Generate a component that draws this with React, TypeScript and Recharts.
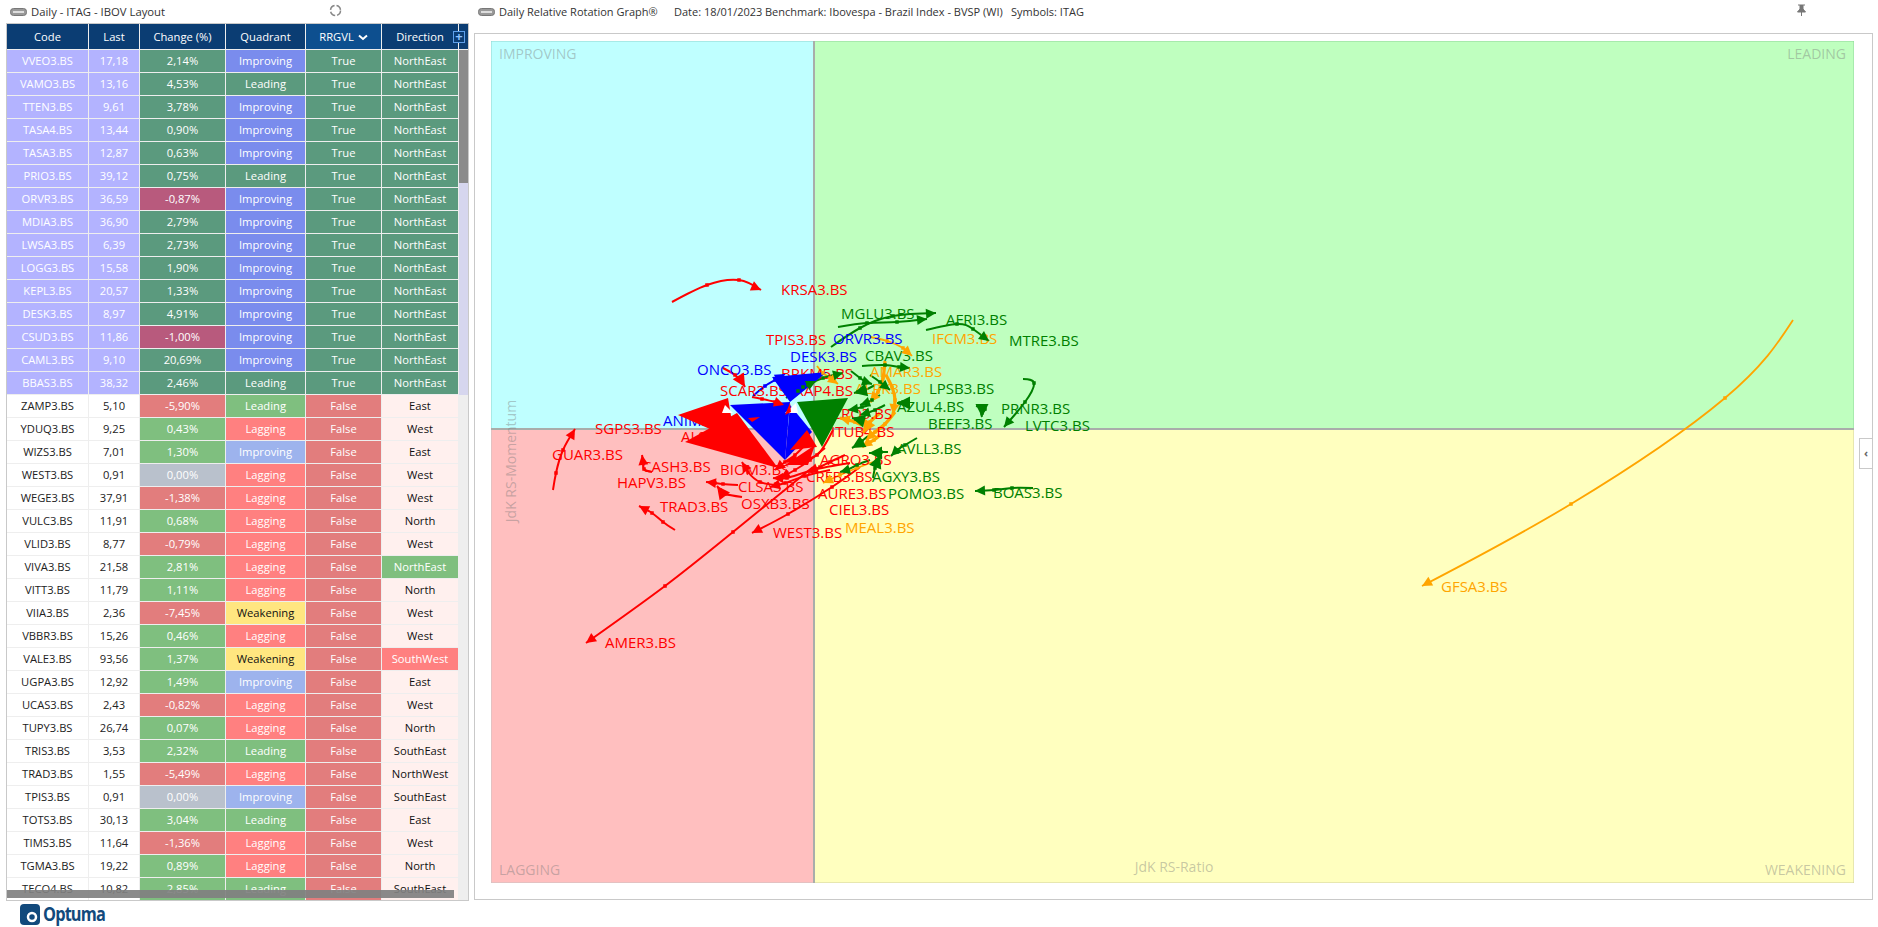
import { ComposedChart, Line, Scatter, XAxis, YAxis, ReferenceArea, ReferenceLine } from 'recharts';

type Pt = [number, number];

// ---- table columns ----
const codes = ['VVEO3.BS','VAMO3.BS','TTEN3.BS','TASA4.BS','TASA3.BS','PRIO3.BS','ORVR3.BS','MDIA3.BS','LWSA3.BS','LOGG3.BS','KEPL3.BS','DESK3.BS','CSUD3.BS','CAML3.BS','BBAS3.BS','ZAMP3.BS','YDUQ3.BS','WIZS3.BS','WEST3.BS','WEGE3.BS','VULC3.BS','VLID3.BS','VIVA3.BS','VITT3.BS','VIIA3.BS','VBBR3.BS','VALE3.BS','UGPA3.BS','UCAS3.BS','TUPY3.BS','TRIS3.BS','TRAD3.BS','TPIS3.BS','TOTS3.BS','TIMS3.BS','TGMA3.BS','TECO4.BS'];
const lasts = ['17,18','13,16','9,61','13,44','12,87','39,12','36,59','36,90','6,39','15,58','20,57','8,97','11,86','9,10','38,32','5,10','9,25','7,01','0,91','37,91','11,91','8,77','21,58','11,79','2,36','15,26','93,56','12,92','2,43','26,74','3,53','1,55','0,91','30,13','11,64','19,22','10,82'];
const changes = ['2,14%','4,53%','3,78%','0,90%','0,63%','0,75%','-0,87%','2,79%','2,73%','1,90%','1,33%','4,91%','-1,00%','20,69%','2,46%','-5,90%','0,43%','1,30%','0,00%','-1,38%','0,68%','-0,79%','2,81%','1,11%','-7,45%','0,46%','1,37%','1,49%','-0,82%','0,07%','2,32%','-5,49%','0,00%','3,04%','-1,36%','0,89%','2,85%'];
const quadrants = ['Improving','Leading','Improving','Improving','Improving','Leading','Improving','Improving','Improving','Improving','Improving','Improving','Improving','Improving','Leading','Leading','Lagging','Improving','Lagging','Lagging','Lagging','Lagging','Lagging','Lagging','Weakening','Lagging','Weakening','Improving','Lagging','Lagging','Leading','Lagging','Improving','Leading','Lagging','Lagging','Leading'];
const directions = ['NorthEast','NorthEast','NorthEast','NorthEast','NorthEast','NorthEast','NorthEast','NorthEast','NorthEast','NorthEast','NorthEast','NorthEast','NorthEast','NorthEast','NorthEast','East','West','East','West','West','North','West','NorthEast','North','West','West','SouthWest','East','West','North','SouthEast','NorthWest','SouthEast','East','West','North','SouthEast'];
const trueRows = 15;

// ---- rotation tails, oldest point first: [RS-Ratio, RS-Momentum] ----
const krsa3: Pt[] = [[92.9,106.35],[94.65,107.2],[96.25,107.45],[97.35,106.95]];
const scar3: Pt[] = [[95.45,103.05],[96.05,102.7],[96.4,102.35],[96.55,102.1]];
const brap4: Pt[] = [[96.9,101.6],[97.4,101.5],[98.05,101.35],[98.5,101.2]];
const guar3: Pt[] = [[86.95,96.95],[87.1,97.8],[87.45,98.95],[88.05,100]];
const cash3: Pt[] = [[91.9,97.85],[91.5,98],[91.45,98.35],[91.4,98.7]];
const trad3: Pt[] = [[93.05,94.95],[92.45,95.35],[91.9,95.8],[91.25,96.15]];
const clsa3: Pt[] = [[96.2,97.2],[95.45,97.25],[95.05,97.3],[94.6,97.35]];
const osxb3: Pt[] = [[96.4,96.6],[95.55,96.75],[95.3,96.95],[95.15,97.15]];
const west3: Pt[] = [[102.3,98.1],[100.9,97.1],[98.7,95.75],[96.9,94.8]];
const amer3: Pt[] = [[99.95,98.1],[95.95,94.85],[92.55,92.15],[88.6,89.3]];
const crfb3: Pt[] = [[101.8,98.3],[99.95,97.95],[98.65,97.55],[97.95,97.55]];
const agro3: Pt[] = [[100.95,99.95],[100.15,98.7],[99.3,98.55],[98.65,98.35]];
const aure3: Pt[] = [[101.55,98.7],[100.8,98.35],[100.3,98.1],[99.7,97.85]];
const biom3: Pt[] = [[98.2,97.2],[97.3,97.35],[96.7,97.85],[96.4,98.35]];
const ciel3: Pt[] = [[100.8,97.95],[99.55,97.65],[98.55,97.3],[97.8,97.1]];
const ccro3: Pt[] = [[100.55,99.05],[99.8,98.45],[99.05,97.95],[98.3,97.55]];
const itub4: Pt[] = [[99.55,99.2],[99.05,98.7],[98.55,98.35],[98.05,97.95]];
const redTails = [krsa3, scar3, brap4, guar3, cash3, trad3, clsa3, osxb3, west3, amer3, crfb3, agro3, aure3, biom3, ciel3, ccro3, itub4];

const desk3: Pt[] = [[96.95,101.65],[97.55,102.15],[98.05,102.45],[98.55,102.75]];
const blueTails = [desk3];

const mglu3: Pt[] = [[101.2,105.1],[102.65,105.3],[104.15,105.35],[105.65,105.5]];
const orvr3: Pt[] = [[100.85,104.1],[102.3,105.05],[103.95,105.65],[106.1,105.8]];
const afri3: Pt[] = [[105.6,104.95],[107.15,105.25],[107.95,105],[108.75,104.4]];
const cbav3: Pt[] = [[102.4,103.15],[103.55,103.2],[104.25,103.1],[104.8,103.05]];
const prnr3: Pt[] = [[110.45,102.5],[111,102.3],[110.55,101.35],[109.5,100.1]];
const beef3: Pt[] = [[108.1,101.15],[108.55,101],[108.4,100.8],[108.4,100.6]];
const avll3: Pt[] = [[105.15,99.55],[104.55,99.2],[104.15,98.95],[103.85,98.65]];
const boas3: Pt[] = [[110.95,97.05],[109.9,97.05],[109,96.95],[108.05,96.9]];
const tpis3: Pt[] = [[98.6,101.55],[99.45,102.1],[100.45,102.55],[101.45,102.8]];
const oncoG: Pt[] = [[98.7,101.55],[99.2,101.9],[99.7,102.2],[100.1,102.4]];
const lpsb3: Pt[] = [[101.85,102.9],[102.3,102.55],[102.6,102.35],[102.9,102.25]];
const mtre3: Pt[] = [[102.8,102.7],[103.3,102.35],[103.55,102.15],[103.8,101.95]];
const azul4: Pt[] = [[104.75,101.35],[104.45,101.35],[104.3,101.3],[104.15,101.3]];
const clusterA: Pt[] = [[103.05,102.2],[102.55,101.95],[102.2,101.85],[102,101.8]];
const clusterB: Pt[] = [[102.8,101.2],[102.4,101.1],[102.05,101],[101.7,100.95]];
const clusterC: Pt[] = [[103.3,101.7],[102.9,101.45],[102.6,101.3],[102.3,101.2]];
const clusterD: Pt[] = [[103.55,101.2],[103.05,100.95],[102.65,100.8],[102.3,100.7]];
const clusterE: Pt[] = [[102.8,100.2],[102.4,100.4],[102.1,100.5],[101.9,100.55]];
const clusterF: Pt[] = [[102.7,99.65],[102.4,99.4],[102.15,99.2],[101.9,99.05]];
const clusterG: Pt[] = [[103.7,98.85],[103.35,98.85],[103.05,98.8],[102.75,98.8]];
const agxy3: Pt[] = [[102.95,97.55],[103.05,98.05],[103.2,98.45],[103.3,98.7]];
const pomo3: Pt[] = [[102.8,98.45],[102.15,98.2],[101.65,97.95],[101.3,97.85]];
const greenTails = [mglu3, orvr3, afri3, cbav3, prnr3, beef3, avll3, boas3, tpis3, oncoG, lpsb3, mtre3, azul4, clusterA, clusterB, clusterC, clusterD, clusterE, clusterF, clusterG, agxy3, pomo3];

const gfsa3: Pt[] = [[148.95,105.45],[145.55,101.55],[137.85,96.25],[130.4,92.15]];
const ifcm3: Pt[] = [[102.8,104.6],[103.65,104.4],[104.45,104.05],[104.9,103.65]];
const orangeC: Pt[] = [[102.95,98.35],[102.15,98.05],[101.3,97.7],[100.45,97.3]];
const orangeD: Pt[] = [[100.15,103.15],[100.45,102.8],[100.8,102.55],[101.2,102.25]];
const orangeTails = [gfsa3, ifcm3, orangeC, orangeD];

const amar3: Pt[] = [[103.55,103.4],[103.45,102.55],[103.2,101.85],[102.8,101.35]];
const alpk3: Pt[] = [[103.6,102.7],[103.9,102.1],[104.05,101.45],[103.95,100.75]];
const meal3: Pt[] = [[104.05,100.85],[103.55,100.25],[103.05,99.85],[102.6,99.45]];
const orangeA: Pt[] = [[102.4,100.2],[102.05,100.35],[101.7,100.45],[101.3,100.55]];
const orangeB: Pt[] = [[103.3,99.7],[103,99.45],[102.7,99.3],[102.4,99.1]];
const orangeE: Pt[] = [[103.3,100.8],[102.8,100.35],[102.6,100.05],[102.45,99.8]];
const orangeThick = [amar3, alpk3, meal3, orangeA, orangeB, orangeE];

// ---- oversized arrow heads (short tails blow the head up), three corners each ----
const redHeads: Pt[][] = [
  [[93.2,100.7],[95.7,101.55],[96.05,99.45]],
  [[93.55,99.35],[96.15,100.8],[98.2,98.05]],
];
const blueHeads: Pt[][] = [
  [[95.8,101.2],[98.8,101.35],[98.55,98.45]],
  [[97.9,102.6],[100.65,102.85],[98.8,101.35]],
  [[98.8,101.2],[99.9,99.85],[98.55,98.45]],
];
const whiteGaps: Pt[][] = [
  [[95.4,100.8],[95.55,101.2],[95.95,100.8]],
  [[98.55,100.8],[99.1,101.3],[99.2,100.8]],
];
const redHeadsTop: Pt[][] = [
  [[96.7,100.55],[97.3,100.6],[96.9,100.35]],
  [[98.55,100.7],[98.8,101.3],[98.85,100.85]],
  [[98.8,98.95],[99.65,99.95],[100.15,99.1]],
  [[98.55,98.2],[100.05,99.2],[99.7,98.2]],
];
const greenHeads: Pt[][] = [[[99.15,101.35],[101.7,101.55],[100.4,99.1]]];

// ---- symbol labels, [name, RS-Ratio, RS-Momentum] ----
const redLabels: [string, number, number][] = [
  ['KRSA3.BS',98.35,107],['TPIS3.BS',97.6,104.5],['BRKM5.BS',98.35,102.8],['SCAR3.BS',95.3,101.95],['BRAP4.BS',98.55,101.95],['CCRO3.BS',100.4,100.8],['ITUB4.BS',100.85,99.9],['ALSO3.BS',93.35,99.65],['SGPS3.BS',89.05,100.05],['GUAR3.BS',86.9,98.75],['CASH3.BS',91.4,98.15],['BIOM3.BS',95.3,98],['AGRO3.BS',100.3,98.5],['HAPV3.BS',90.15,97.35],['CLSA3.BS',96.2,97.15],['CRFB3.BS',99.6,97.65],['AURE3.BS',100.2,96.8],['TRAD3.BS',92.3,96.15],['OSXB3.BS',96.35,96.3],['CIEL3.BS',100.75,96],['WEST3.BS',97.95,94.85],['AMER3.BS',89.55,89.35],
];
const blueLabels: [string, number, number][] = [
  ['ORVR3.BS',100.95,104.55],['DESK3.BS',98.8,103.65],['ONCO3.BS',94.15,103],['ANIM3.BS',92.45,100.45],
];
const greenLabels: [string, number, number][] = [
  ['MGLU3.BS',101.35,105.8],['AFRI3.BS',106.6,105.5],['MTRE3.BS',109.75,104.45],['CBAV3.BS',102.55,103.7],['LPSB3.BS',105.75,102.05],['AZUL4.BS',104.15,101.15],['PRNR3.BS',109.35,101.05],['BEEF3.BS',105.7,100.3],['LVTC3.BS',110.55,100.2],['AVLL3.BS',104.15,99.05],['AGXY3.BS',102.9,97.65],['POMO3.BS',103.7,96.8],['BOAS3.BS',108.95,96.85],
];
const orangeLabels: [string, number, number][] = [
  ['IFCM3.BS',105.9,104.55],['AMAR3.BS',102.8,102.9],['ALPK3.BS',102.05,102.05],['MEAL3.BS',101.55,95.1],['GFSA3.BS',131.35,92.15],
];

const X_DOMAIN: [number, number] = [83.85, 152];
const Y_DOMAIN: [number, number] = [77.3, 119.4];
const RED = '#ff0000';
const BLUE = '#0000ff';
const GREEN = '#008000';
const ORANGE = '#ffa500';
const QUADRANT_TEXT = 'rgba(120,120,120,0.42)';

const columns = [
  { title: 'Code', left: 7, width: 82 },
  { title: 'Last', left: 89, width: 51 },
  { title: 'Change (%)', left: 140, width: 86 },
  { title: 'Quadrant', left: 226, width: 80 },
  { title: 'RRGVL', left: 306, width: 76 },
  { title: 'Direction', left: 382, width: 77 },
];

const toRows = (pts: Pt[]) => pts.map(([x, y]) => ({ x, y }));

const tailDot = (color: string) => (p: any) => {
  const { index, cx, cy, points } = p;
  if (index === 0) return <g key={index} />;
  if (index < points.length - 1) return <rect key={index} x={cx - 1.75} y={cy - 1.75} width={3.5} height={3.5} fill={color} />;
  const prev = points[index - 1];
  const a = Math.atan2(cy - prev.y, cx - prev.x);
  // the shorter the last step, the fatter the head
  const step = Math.hypot(cy - prev.y, cx - prev.x);
  const size = step < 6 ? 13 : 10;
  const bx = cx - Math.cos(a) * size;
  const by = cy - Math.sin(a) * size;
  const nx = -Math.sin(a) * size * 0.5;
  const ny = Math.cos(a) * size * 0.5;
  return <polygon key={index} points={`${cx},${cy} ${bx + nx},${by + ny} ${bx - nx},${by - ny}`} fill={color} />;
};

const headDot = (color: string) => (p: any) => {
  if (p.index !== 0) return <g key={p.index} />;
  return <polygon key={0} points={p.points.map((q: any) => `${q.x},${q.y}`).join(' ')} fill={color} />;
};

const labelShape = (color: string) => (p: any) => (
  <text x={p.cx} y={p.cy} fill={color} fontSize={15} dominantBaseline="central">{p.payload.name}</text>
);

const tailLines = (tails: Pt[][], color: string, prefix: string, width = 2) =>
  tails.map((t, i) => (
    <Line key={`${prefix}${i}`} data={toRows(t)} dataKey="y" type="natural" stroke={color} strokeWidth={width} dot={tailDot(color)} activeDot={false} isAnimationActive={false} legendType="none" />
  ));

const headLines = (heads: Pt[][], color: string, prefix: string) =>
  heads.map((t, i) => (
    <Line key={`${prefix}${i}`} data={toRows(t)} dataKey="y" type="linear" stroke="none" dot={headDot(color)} activeDot={false} isAnimationActive={false} legendType="none" />
  ));

const labelSeries = (labels: [string, number, number][], color: string, key: string) => (
  <Scatter key={key} data={labels.map(([name, x, y]) => ({ name, x, y }))} shape={labelShape(color)} isAnimationActive={false} legendType="none" />
);

const quadLabel = (value: string, position: string) => ({
  value, position, fill: QUADRANT_TEXT, fontSize: 14, offset: 8,
});

function cellStyle(col: number, row: number) {
  const top = row < trueRows;
  const ch = changes[row];
  const q = quadrants[row];
  const d = directions[row];
  let bg = top ? '#b3b3ff' : '#ffffff';
  let fg = top ? '#ffffff' : '#222222';
  if (col === 2) {
    fg = '#ffffff';
    if (ch.startsWith('-')) bg = top ? '#b85a7d' : '#e27d7d';
    else if (ch === '0,00%') bg = '#b9c1cc';
    else bg = top ? '#5b9a7e' : '#7fbf7f';
  }
  if (col === 3) {
    fg = q === 'Weakening' ? '#111111' : '#ffffff';
    if (q === 'Improving') bg = top ? '#7a8ced' : '#9db3ed';
    if (q === 'Leading') bg = top ? '#5b9a7e' : '#7fbf7f';
    if (q === 'Lagging') bg = '#ff8080';
    if (q === 'Weakening') bg = '#ffe680';
  }
  if (col === 4) {
    fg = '#ffffff';
    bg = top ? '#5b9a7e' : '#e27d7d';
  }
  if (col === 5) {
    bg = top ? '#5b9a7e' : '#fff0ee';
    fg = top ? '#ffffff' : '#111111';
    if (!top && d === 'NorthEast') { bg = '#7fbf7f'; fg = '#ffffff'; }
    if (!top && d === 'SouthWest') { bg = '#ff8080'; fg = '#ffffff'; }
  }
  return { bg, fg };
}

const ABS = { position: 'absolute' } as const;

function LinkIcon({ left }: { left: number }) {
  return (
    <svg style={{ ...ABS, left, top: 8 }} width={17} height={8}>
      <rect x={0.5} y={0.5} width={16} height={7} rx={3} fill="#999" stroke="#777" />
      <rect x={3} y={3} width={11} height={2} fill="#ddd" />
    </svg>
  );
}

function RrgTable() {
  return (
    <div style={{ ...ABS, left: 6, top: 23, width: 461, height: 876, border: '1px solid #c9c9c9', overflow: 'hidden', background: '#eeeeee', fontSize: 11.2 }}>
      {columns.map((c, i) => (
        <div key={c.title} style={{ ...ABS, left: c.left - 7, top: 0, width: c.width - 1, height: 25, background: i === 4 ? '#0d4f8f' : '#0b3d73', color: '#fff', lineHeight: '25px', textAlign: 'center' }}>
          {c.title}
          {i === 4 && (
            <svg width={10} height={7} style={{ marginLeft: 4 }}>
              <path d="M1 1.5l4 3.5 4-3.5" fill="none" stroke="#fff" strokeWidth={2} />
            </svg>
          )}
        </div>
      ))}
      <div style={{ ...ABS, left: 452, top: 0, width: 9, height: 25, background: '#0b3d73' }} />
      <div style={{ ...ABS, left: 446, top: 7, width: 10, height: 10, background: '#0b3d73', border: '1px solid #5fa0ea', color: '#8ec2ff', fontSize: 13, lineHeight: '9px', textAlign: 'center', fontWeight: 700 }}>+</div>
      {codes.map((code, r) => {
        const vals = [code, lasts[r], changes[r], quadrants[r], r < trueRows ? 'True' : 'False', directions[r]];
        return columns.map((c, i) => {
          const { bg, fg } = cellStyle(i, r);
          return (
            <div key={`${r}-${i}`} style={{ ...ABS, left: c.left - 7, top: 26 + r * 23, width: c.width - 1, height: 22, background: bg, color: fg, lineHeight: '22px', textAlign: 'center' }}>
              {vals[i]}
            </div>
          );
        });
      })}
      <div style={{ ...ABS, left: 452, top: 26, width: 9, height: 345, background: '#d6d6ee' }} />
      <div style={{ ...ABS, left: 452, top: 26, width: 9, height: 133, background: '#8b8b8b' }} />
      <div style={{ ...ABS, left: 0, top: 866, width: 447, height: 8, background: 'rgba(128,128,128,0.92)' }} />
    </div>
  );
}

function RrgChart() {
  return (
    <div style={{ ...ABS, left: 491, top: 41 }}>
      <ComposedChart width={1363} height={842} margin={{ top: 0, right: 0, bottom: 0, left: 0 }}>
        <XAxis type="number" dataKey="x" domain={X_DOMAIN} allowDataOverflow hide />
        <YAxis type="number" dataKey="y" domain={Y_DOMAIN} allowDataOverflow hide />
        <ReferenceArea x1={X_DOMAIN[0]} x2={100} y1={100} y2={Y_DOMAIN[1]} fill="#bfffff" fillOpacity={1} stroke="#8fd6d0" label={quadLabel('IMPROVING', 'insideTopLeft')} />
        <ReferenceArea x1={100} x2={X_DOMAIN[1]} y1={100} y2={Y_DOMAIN[1]} fill="#bfffbf" fillOpacity={1} stroke="#8fd69a" label={quadLabel('LEADING', 'insideTopRight')} />
        <ReferenceArea x1={X_DOMAIN[0]} x2={100} y1={Y_DOMAIN[0]} y2={100} fill="#ffbfbf" fillOpacity={1} stroke="#c9c3c3" label={quadLabel('LAGGING', 'insideBottomLeft')} />
        <ReferenceArea x1={100} x2={X_DOMAIN[1]} y1={Y_DOMAIN[0]} y2={100} fill="#ffffbf" fillOpacity={1} stroke="#cfcf9f" label={quadLabel('WEAKENING', 'insideBottomRight')} />
        <ReferenceLine x={100} stroke="#a9adaa" strokeWidth={2} />
        <ReferenceLine y={100} stroke="#a9adaa" strokeWidth={2} />
        {labelSeries(redLabels, RED, 'lr')}
        {labelSeries(blueLabels, BLUE, 'lb')}
        {labelSeries(greenLabels, GREEN, 'lg')}
        {labelSeries(orangeLabels, ORANGE, 'lo')}
        {headLines(redHeads, RED, 'hr')}
        {headLines(blueHeads, BLUE, 'hb')}
        {headLines(whiteGaps, '#ffffff', 'hw')}
        {headLines(redHeadsTop, RED, 'ht')}
        {tailLines(blueTails, BLUE, 'tb')}
        {tailLines(redTails, RED, 'tr')}
        {headLines(greenHeads, GREEN, 'hg')}
        {tailLines(orangeTails, ORANGE, 'to', 1.8)}
        {tailLines(orangeThick, ORANGE, 'tk', 3.2)}
        {tailLines(greenTails, GREEN, 'tg')}
      </ComposedChart>
    </div>
  );
}

export default function App() {
  return (
    <div style={{ ...ABS, left: 0, top: 0, width: 1878, height: 927, overflow: 'hidden', background: '#fff', fontFamily: '"Open Sans", sans-serif', fontSize: 11, color: '#333' }}>
      <LinkIcon left={10} />
      <div style={{ ...ABS, left: 31, top: 4, lineHeight: '16px', fontSize: 11.3 }}>Daily - ITAG - IBOV Layout</div>
      <svg style={{ ...ABS, left: 329, top: 4 }} width={13} height={13}>
        <circle cx={6.5} cy={6.5} r={5} fill="none" stroke="#888" strokeWidth={1.5} strokeDasharray="6 2" />
      </svg>
      <RrgTable />

      <svg style={{ ...ABS, left: 20, top: 904 }} width={20} height={21}>
        <rect width={20} height={21} rx={4} fill="#124a7c" />
        <circle cx={12} cy={13} r={4} fill="none" stroke="#fff" strokeWidth={2.5} />
      </svg>
      <div style={{ ...ABS, left: 43, top: 901, fontSize: 19, fontWeight: 700, letterSpacing: -1, lineHeight: '26px', color: '#124a7c', transform: 'scaleX(0.86)', transformOrigin: 'left center' }}>Optuma</div>

      <LinkIcon left={478} />
      <div style={{ ...ABS, left: 499, top: 4, lineHeight: '16px' }}>Daily Relative Rotation Graph®</div>
      <div style={{ ...ABS, left: 674, top: 4, lineHeight: '16px' }}>Date: 18/01/2023</div>
      <div style={{ ...ABS, left: 765, top: 4, lineHeight: '16px' }}>Benchmark: Ibovespa - Brazil Index - BVSP (WI)</div>
      <div style={{ ...ABS, left: 1011, top: 4, lineHeight: '16px' }}>Symbols: ITAG</div>
      <svg style={{ ...ABS, left: 1796, top: 4 }} width={11} height={13}>
        <path d="M2 1h7M4 1v4L1.5 8h8L7 5V1M5.5 8v4" fill="#777" stroke="#777" />
      </svg>

      <div style={{ ...ABS, left: 474, top: 33, width: 1397, height: 865, border: '1px solid #c9c9c9' }} />
      <RrgChart />
      <div style={{ ...ABS, left: 1134, top: 858, width: 80, textAlign: 'center', fontSize: 14, lineHeight: '18px', color: QUADRANT_TEXT }}>JdK RS-Ratio</div>
      <div style={{ ...ABS, left: 511, top: 461, width: 0, height: 0 }}>
        <div style={{ position: 'absolute', left: -70, top: -9, width: 140, textAlign: 'center', fontSize: 14, lineHeight: '18px', color: QUADRANT_TEXT, transform: 'rotate(-90deg)' }}>JdK RS-Momentum</div>
      </div>
      <div style={{ ...ABS, left: 1859, top: 438, width: 12, height: 29, background: '#fff', border: '1px solid #c9c9c9', borderRight: 'none', color: '#666', textAlign: 'center', lineHeight: '27px', fontWeight: 700 }}>‹</div>
    </div>
  );
}
